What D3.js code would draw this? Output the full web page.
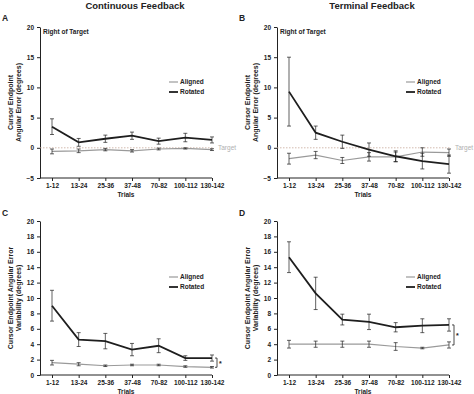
<!DOCTYPE html>
<html>
<head>
<meta charset="utf-8">
<script src="https://cdn.jsdelivr.net/npm/d3@7"></script>
<style>
body { margin: 0; background: #fff; }
svg text { font-family: "Liberation Sans", Arial, sans-serif; font-weight: bold; }
.axis path, .axis line { stroke: #222; stroke-width: 1; }
.axis text { font-size: 6.5px; fill: #222; font-weight: bold; }
</style>
</head>
<body>
<svg id="chart" width="474" height="394"></svg>
<script>
var trials = ["1-12", "13-24", "25-36", "37-48", "70-82", "100-112", "130-142"];

// panel A: continuous feedback, angular error
var contAligned = [-0.6, -0.5, -0.3, -0.5, -0.2, -0.1, -0.3];
var contAlignedErr = [0.4, 0.3, 0.2, 0.2, 0.15, 0.1, 0.15];
var contRotated = [3.5, 0.9, 1.5, 2.0, 1.1, 1.7, 1.3];
var contRotatedErr = [1.3, 0.65, 0.6, 0.6, 0.5, 0.7, 0.5];

// panel B: terminal feedback, angular error
var termAligned = [-1.8, -1.2, -2.1, -1.5, -1.5, -0.7, -0.8];
var termAlignedErr = [0.9, 0.6, 0.5, 0.7, 0.8, 0.7, 0.6];
var termRotated = [9.3, 2.5, 1.0, -0.3, -1.4, -2.2, -2.7];
var termRotatedErr = [5.7, 1.1, 1.1, 1.1, 0.9, 1.3, 1.5];

// panel C: continuous feedback, variability
var contVarAligned = [1.6, 1.4, 1.2, 1.3, 1.3, 1.1, 1.0];
var contVarAlignedErr = [0.3, 0.2, 0.1, 0.1, 0.1, 0.1, 0.1];
var contVarRotated = [9.0, 4.6, 4.4, 3.3, 3.8, 2.2, 2.2];
var contVarRotatedErr = [2.0, 0.9, 1.0, 0.8, 0.9, 0.3, 0.4];

// panel D: terminal feedback, variability
var termVarAligned = [4.0, 4.0, 4.0, 4.0, 3.7, 3.5, 3.9];
var termVarAlignedErr = [0.5, 0.4, 0.4, 0.4, 0.5, 0.1, 0.4];
var termVarRotated = [15.3, 10.6, 7.2, 6.9, 6.2, 6.4, 6.5];
var termVarRotatedErr = [2.0, 2.1, 0.7, 1.0, 0.6, 0.9, 0.8];

var errorTicks = [-5, 0, 5, 10, 15, 20];
var varTicks = [0, 2, 4, 6, 8, 10, 12, 14, 16, 18, 20];

var grey = "#9a9a9a";
var dark = "#1e1e1e";

var svg = d3.select("#chart");

svg.append("text").attr("x", 135).attr("y", 9).attr("text-anchor", "middle")
	.style("font-size", "9.5px").attr("fill", "#222").text("Continuous Feedback");
svg.append("text").attr("x", 372).attr("y", 9).attr("text-anchor", "middle")
	.style("font-size", "9.5px").attr("fill", "#222").text("Terminal Feedback");

var panels = [
	{ letter: "A", ox: 0, oy: 0, domain: [-5, 20], top: 27, ticks: errorTicks,
		aligned: contAligned, alignedErr: contAlignedErr, rotated: contRotated, rotatedErr: contRotatedErr,
		label: ["Cursor Endpoint", "Angular Error (degrees)"], target: true, star: false },
	{ letter: "B", ox: 237, oy: 0, domain: [-5, 20], top: 27, ticks: errorTicks,
		aligned: termAligned, alignedErr: termAlignedErr, rotated: termRotated, rotatedErr: termRotatedErr,
		label: ["Cursor Endpoint", "Angular Error (degrees)"], target: true, star: false },
	{ letter: "C", ox: 0, oy: 197, domain: [0, 20], top: 24, ticks: varTicks,
		aligned: contVarAligned, alignedErr: contVarAlignedErr, rotated: contVarRotated, rotatedErr: contVarRotatedErr,
		label: ["Cursor Endpoint Angular Error", "Variability (degrees)"], target: false, star: true },
	{ letter: "D", ox: 237, oy: 197, domain: [0, 20], top: 24, ticks: varTicks,
		aligned: termVarAligned, alignedErr: termVarAlignedErr, rotated: termVarRotated, rotatedErr: termVarRotatedErr,
		label: ["Cursor Endpoint  Angular Error", "Variability (degrees)"], target: false, star: true }
];

panels.forEach(function (p) {
	var g = svg.append("g").attr("transform", "translate(" + p.ox + "," + p.oy + ")");
	var axisX = 40;
	var bottom = 178;

	var x = d3.scalePoint().domain(trials).range([52, 212]);
	var y = d3.scaleLinear().domain(p.domain).range([bottom, p.top]);

	g.append("text").attr("x", 2).attr("y", p.oy ? 19 : 21)
		.style("font-size", "8.5px").attr("fill", "#222").text(p.letter);

	// y axis
	var yAxis = g.append("g").attr("class", "axis")
		.attr("transform", "translate(" + axisX + ",0)")
		.call(d3.axisLeft(y).tickValues(p.ticks).tickSize(3).tickSizeOuter(0).tickPadding(3));

	// x axis
	var xAxis = g.append("g").attr("class", "axis")
		.attr("transform", "translate(0," + bottom + ")")
		.call(d3.axisBottom(x).tickSize(3).tickSizeOuter(0).tickPadding(2));
	xAxis.select(".domain").attr("d", "M" + axisX + ",0H" + x(trials[trials.length - 1]));

	g.append("text").attr("x", 126).attr("y", 197).attr("text-anchor", "middle")
		.style("font-size", "6.5px").attr("fill", "#222").text("Trials");

	// y label
	var midY = (bottom + p.top) / 2;
	g.append("text").attr("transform", "translate(13," + midY + ") rotate(-90)")
		.attr("text-anchor", "middle").style("font-size", "7px").attr("fill", "#222")
		.text(p.label[0]);
	g.append("text").attr("transform", "translate(21," + midY + ") rotate(-90)")
		.attr("text-anchor", "middle").style("font-size", "7px").attr("fill", "#222")
		.text(p.label[1]);

	if (p.target) {
		g.append("line").attr("x1", axisX).attr("x2", 214).attr("y1", y(0)).attr("y2", y(0))
			.attr("stroke", "#c8a89a").attr("stroke-width", 0.8).attr("stroke-dasharray", "1.5,1.5");
		g.append("text").attr("x", 218).attr("y", y(0) + 2.5).style("font-size", "6.5px")
			.style("font-weight", "normal").attr("fill", "#b0b0b0").text("Target");
		g.append("text").attr("x", 43).attr("y", 34).style("font-size", "6.5px")
			.attr("fill", "#222").text("Right of Target");
	}

	function series(vals, errs, color, width) {
		var line = d3.line().x(function (d, i) { return x(trials[i]); }).y(function (d) { return y(d); });
		g.append("path").datum(vals).attr("d", line).attr("fill", "none")
			.attr("stroke", color).attr("stroke-width", width);
		var eb = g.append("g").selectAll("g").data(vals).enter().append("g");
		eb.append("line")
			.attr("x1", function (d, i) { return x(trials[i]); })
			.attr("x2", function (d, i) { return x(trials[i]); })
			.attr("y1", function (d, i) { return y(d - errs[i]); })
			.attr("y2", function (d, i) { return y(d + errs[i]); })
			.attr("stroke", dark).attr("stroke-width", 0.7);
		[-1, 1].forEach(function (s) {
			eb.append("line")
				.attr("x1", function (d, i) { return x(trials[i]) - 2; })
				.attr("x2", function (d, i) { return x(trials[i]) + 2; })
				.attr("y1", function (d, i) { return y(d + s * errs[i]); })
				.attr("y2", function (d, i) { return y(d + s * errs[i]); })
				.attr("stroke", dark).attr("stroke-width", 0.7);
		});
	}
	series(p.aligned, p.alignedErr, grey, 1.2);
	series(p.rotated, p.rotatedErr, dark, 1.8);

	// legend
	var leg = [["Aligned", grey, 1.2, 82], ["Rotated", dark, 1.8, 92]];
	leg.forEach(function (l) {
		var ly = p.oy ? l[3] - 2 : l[3];
		g.append("line").attr("x1", 169).attr("x2", 178).attr("y1", ly).attr("y2", ly)
			.attr("stroke", l[1]).attr("stroke-width", l[2]);
		g.append("text").attr("x", 180).attr("y", ly + 2.3).style("font-size", "6.5px")
			.attr("fill", "#222").text(l[0]);
	});

	if (p.star) {
		var last = trials.length - 1;
		var bx = 215;
		var y1 = y(p.rotated[last]), y2 = y(p.aligned[last]);
		g.append("path").attr("d", "M" + bx + "," + y1 + "H" + (bx + 2) + "V" + y2 + "H" + bx)
			.attr("fill", "none").attr("stroke", dark).attr("stroke-width", 0.8);
		g.append("text").attr("x", bx + 4).attr("y", (y1 + y2) / 2 + 3)
			.style("font-size", "7px").attr("fill", "#222").text("*");
	}
});
</script>
</body>
</html>
